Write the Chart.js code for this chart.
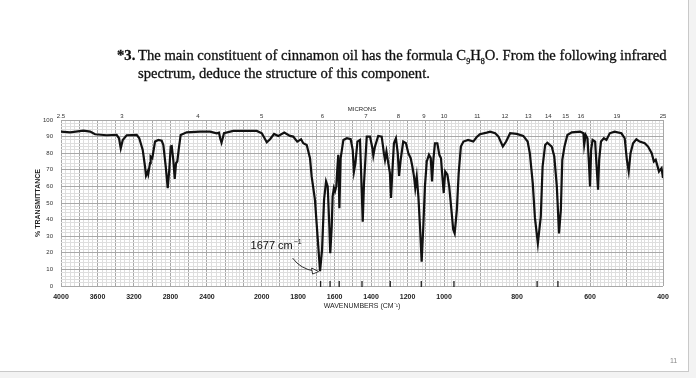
<!DOCTYPE html>
<html>
<head>
<meta charset="utf-8">
<script src="https://cdn.jsdelivr.net/npm/chart.js@4.4.1/dist/chart.umd.min.js"></script>
<style>
html, body { margin: 0; padding: 0; background: #f3f3f3; }
#page { position: absolute; left: 0; top: 0; width: 688px; height: 371px; background: #fff;
        border-right: 1px solid #c9c9c9; border-bottom: 1px solid #c9c9c9; }
#c { position: absolute; left: 0; top: 0; }
#q { position: absolute; left: 117px; top: 46px; width: 570px; color: #111; white-space: nowrap;
     font-family: "Liberation Serif", serif; font-size: 14.65px; line-height: 18px;
     -webkit-text-stroke: 0.3px #111; }
#q b { position: absolute; left: 0; top: 0; }
#q div { margin-left: 21px; }
#q sub { font-size: 8px; line-height: 0; }
#pg { position: absolute; left: 670px; top: 357px; font: 7px "Liberation Sans", sans-serif; color: #888; }
</style>
</head>
<body>
<div id="page"></div>
<canvas id="c" width="696" height="378"></canvas>
<div id="q"><b>*3.</b><div>The main constituent of cinnamon oil has the formula C<sub>9</sub>H<sub>8</sub>O. From the following infrared<br>spectrum, deduce the structure of this component.</div></div>
<div id="pg">11</div>
<script>
// spectrum: wavenumber (cm-1) and % transmittance
const wavenumbers = [
    4000, 3900, 3755, 3680, 3627, 3500, 3390, 3364, 3345, 3323, 3280, 3170, 3142, 3104, 3079, 3068,
    3049, 3043, 3024, 3017, 2999, 2969, 2933, 2896, 2878, 2852, 2830, 2813, 2797, 2786, 2769, 2753,
    2739, 2725, 2710, 2688, 2622, 2476, 2366, 2293, 2268, 2255, 2240, 2213,
    2156, 2027, 1999, 1972, 1954, 1932, 1909, 1876, 1845, 1827, 1805, 1784, 1772, 1753, 1735, 1726,
    1708, 1695, 1680, 1669, 1658, 1647, 1638, 1629, 1624, 1616, 1611, 1604, 1598, 1591, 1585, 1580,
    1574, 1567, 1552, 1533, 1512, 1501, 1494, 1486, 1475, 1461, 1451, 1446, 1439, 1424, 1406, 1393,
    1388, 1379, 1361, 1342, 1330, 1324, 1316, 1306, 1297, 1291, 1283, 1275, 1264, 1254, 1247, 1238,
    1224, 1209, 1196, 1183, 1174, 1165, 1158, 1150, 1141, 1132, 1123, 1114, 1105, 1095, 1083, 1073,
    1066, 1059, 1050, 1037, 1026, 1017, 1008, 1002,
    997, 991, 986, 980, 975, 971, 965, 960, 954, 947, 934, 920, 911, 902, 883, 874,
    860, 851, 839, 830, 819, 801, 783, 771, 765, 757, 751, 743, 735, 730, 723, 717,
    705, 698, 691, 685, 680, 676, 670, 662, 650, 627, 618, 616, 612, 607, 603, 600,
    597, 593, 586, 582, 578, 575, 570, 562, 555, 546, 533, 514, 505, 499, 494, 489,
    482, 473, 464, 450, 441, 431, 425, 420, 416, 411, 404, 400
];
const transmittance = [
    93, 92.6, 93.6, 93, 91.4, 90.8, 91.1, 89, 83, 88, 90.8, 91, 89, 82, 72, 66.5,
    69, 67.5, 74, 78, 77, 87, 88, 87.5, 85, 72, 59, 70, 84, 84.3, 76, 64.5,
    74, 75, 82, 91, 92.6, 93, 93, 92, 92.4, 89, 86.3, 92,
    93.4, 93.4, 92, 86.6, 88.4, 91.6, 90.4, 92.4, 90.4, 90, 87, 88.4, 86, 85, 77, 66,
    52, 32, 9, 21.7, 52, 63, 60, 35.7, 19.7, 35.7, 54, 59, 57, 60, 71, 79,
    46.8, 77, 88, 89, 88.4, 82, 69, 74, 87, 88, 56, 38.7, 62, 90, 90, 83,
    78.5, 84, 90.4, 90, 80, 76, 81, 74, 68, 53, 70, 86, 89, 80, 66.3, 76,
    87, 86, 80, 77, 72, 66, 59, 66, 54, 35.7, 14.6, 35.7, 60, 75, 79, 77,
    63, 76, 86, 86, 79, 77, 64, 56,
    69, 67, 60, 46, 34, 31.7, 46, 68, 84, 87, 88, 87, 89.6, 91.4, 92.4, 93,
    92, 90, 84, 87, 92, 91.6, 90.4, 87, 80, 62, 41, 25.7, 41.7, 72, 85, 86.3,
    84, 78, 60, 31.7, 45.8, 76, 84, 91, 92.6, 93, 92, 85, 91, 89, 74, 60,
    82, 88, 87, 72, 58, 76, 87, 89, 88, 92, 93, 92, 89, 76, 69, 80,
    86, 88.4, 87, 86, 84, 80, 75, 76, 73, 69, 71, 65
];

const wavenumberLabels = [4000, 3600, 3200, 2800, 2400, 2000, 1800, 1600, 1400, 1200, 1000, 800, 600, 400];
const micronLabels = [2.5, 3, 4, 5, 6, 7, 8, 9, 10, 11, 12, 13, 14, 15, 16, 19, 25];
const peakMarks = [1677, 1625, 1575, 1450, 1295, 1125, 973, 745, 688];
const callout = { wavenumber: 1677, transmittance: 9, text: '1677 cm', sup: '\u22121' };

// chart paper: 4000-2200 at 1x, 2200-1000 at 2x, 1000-400 at 4x
function toAxis(w) {
    if (w >= 2200) return 4000 - w;
    if (w >= 1000) return 1800 + (2200 - w) * 2;
    return 4200 + (1000 - w) * 4;
}
function fromAxis(u) {
    if (u <= 1800) return 4000 - u;
    if (u <= 4200) return 2200 - (u - 1800) / 2;
    return 1000 - (u - 4200) / 4;
}

// vertical grid lines, denser where the paper is stretched
const gridWaves = [];
for (let w = 4000; w > 2200; w -= 50) gridWaves.push(w);
for (let w = 2200; w > 1000; w -= 20) gridWaves.push(w);
for (let w = 1000; w >= 400; w -= 10) gridWaves.push(w);
function isMajorWave(w) {
    if (w > 2200) return w % 200 === 0;
    return w % 100 === 0;
}

const points = wavenumbers.map((w, i) => ({ x: toAxis(w), y: transmittance[i] }));
const marks = peakMarks.map(w => ({ x: toAxis(w), y: 1.2 }));

const calloutPlugin = {
    id: 'callout',
    afterDatasetsDraw(chart) {
        const { ctx, scales } = chart;
        const px = scales.x.getPixelForValue(toAxis(callout.wavenumber));
        const py = scales.y.getPixelForValue(callout.transmittance);
        ctx.save();
        ctx.fillStyle = '#111';
        ctx.font = '11px "Liberation Sans", Arial, sans-serif';
        ctx.textBaseline = 'alphabetic';
        const tx = px - 70, ty = py - 22;
        ctx.fillText(callout.text, tx, ty);
        const tw = ctx.measureText(callout.text).width;
        ctx.font = '7px "Liberation Sans", Arial, sans-serif';
        ctx.fillText(callout.sup, tx + tw + 1, ty - 5);
        // curved arrow to the carbonyl band
        ctx.strokeStyle = '#333';
        ctx.lineWidth = 1;
        ctx.beginPath();
        ctx.moveTo(px - 28, py - 13);
        ctx.quadraticCurveTo(px - 20, py - 2, px - 6, py);
        ctx.stroke();
        ctx.beginPath();
        ctx.moveTo(px - 2, py + 0.5);
        ctx.lineTo(px - 9, py - 3);
        ctx.lineTo(px - 8, py + 3);
        ctx.closePath();
        ctx.fillStyle = '#fff';
        ctx.fill();
        ctx.stroke();
        ctx.restore();
    }
};

new Chart(document.getElementById('c'), {
    type: 'line',
    data: {
        datasets: [
            {
                data: points,
                borderColor: '#111',
                borderWidth: 2.2,
                pointRadius: 0,
                tension: 0,
                fill: false,
            },
            {
                type: 'scatter',
                data: marks,
                pointStyle: 'line',
                rotation: 90,
                radius: 3,
                borderColor: '#222',
                borderWidth: 1.3,
                clip: false,
            }
        ]
    },
    options: {
        responsive: false,
        devicePixelRatio: 1,
        animation: false,
        plugins: { legend: { display: false }, tooltip: { enabled: false } },
        layout: { padding: { left: 0, right: 33, top: 0, bottom: 0 } },
        scales: {
            x: {
                type: 'linear',
                position: 'bottom',
                min: 0,
                max: 6600,
                afterBuildTicks: axis => { axis.ticks = gridWaves.map(w => ({ value: toAxis(w) })); },
                afterFit: axis => { axis.height = 92; },
                ticks: {
                    autoSkip: false,
                    maxRotation: 0,
                    padding: 7,
                    color: '#222',
                    font: { family: '"Liberation Sans", Arial, sans-serif', size: 7, weight: 'bold' },
                    callback: v => {
                        const w = Math.round(fromAxis(v));
                        return wavenumberLabels.includes(w) ? String(w) : '';
                    }
                },
                grid: {
                    drawTicks: false,
                    color: c => isMajorWave(Math.round(fromAxis(c.tick.value))) ? '#a8a8a8' : '#dedede',
                },
                border: { display: false },
                title: {
                    display: true,
                    text: 'WAVENUMBERS (CM\u207B\u00B9)',
                    color: '#222',
                    font: { family: '"Liberation Sans", Arial, sans-serif', size: 7 },
                    padding: { top: 0, bottom: 68 },
                }
            },
            x2: {
                type: 'linear',
                position: 'top',
                min: 0,
                max: 6600,
                afterBuildTicks: axis => { axis.ticks = micronLabels.map(m => ({ value: toAxis(10000 / m) })); },
                afterFit: axis => { axis.height = 120; },
                ticks: {
                    autoSkip: false,
                    maxRotation: 0,
                    padding: 0,
                    color: '#333',
                    font: { family: '"Liberation Sans", Arial, sans-serif', size: 6 },
                    callback: (v, i) => String(micronLabels[i]),
                },
                grid: { drawOnChartArea: false, drawTicks: false },
                border: { display: false },
                title: {
                    display: true,
                    text: 'MICRONS',
                    color: '#222',
                    font: { family: '"Liberation Sans", Arial, sans-serif', size: 6 },
                    padding: { top: 106, bottom: 0 },
                }
            },
            y: {
                min: 0,
                max: 100,
                afterBuildTicks: axis => {
                    const t = [];
                    for (let v = 0; v <= 100; v += 2) t.push({ value: v });
                    axis.ticks = t;
                },
                afterFit: axis => { axis.width = 61; },
                ticks: {
                    autoSkip: false,
                    padding: 8,
                    color: '#333',
                    font: { family: '"Liberation Sans", Arial, sans-serif', size: 6 },
                    callback: v => (v % 10 === 0 ? String(v) : ''),
                },
                grid: {
                    drawTicks: false,
                    color: c => (c.tick.value % 10 === 0 ? '#a8a8a8' : '#dedede'),
                },
                border: { display: false },
                title: {
                    display: true,
                    text: '% TRANSMITTANCE',
                    color: '#222',
                    font: { family: '"Liberation Sans", Arial, sans-serif', size: 7, weight: 'bold' },
                    padding: { top: 34, bottom: 0 },
                }
            }
        }
    },
    plugins: [calloutPlugin]
});
</script>
</body>
</html>
